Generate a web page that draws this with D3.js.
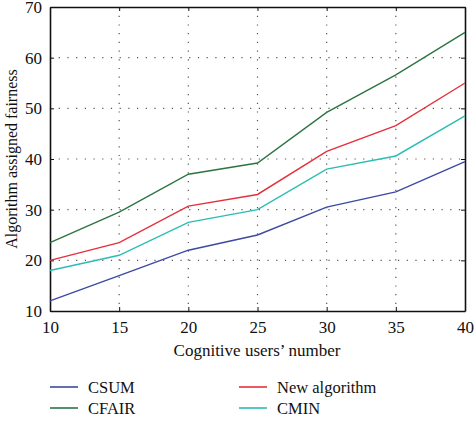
<!DOCTYPE html>
<html>
<head>
<meta charset="utf-8">
<script src="https://cdn.jsdelivr.net/npm/d3@7"></script>
<style>
  body { margin: 0; background: #fff; }
  text { font-family: "Liberation Serif", "DejaVu Serif", serif; fill: #111; }
</style>
</head>
<body>
<svg id="chart" width="474" height="440"></svg>
<script>
// users count on x
const users = [10, 15, 20, 25, 30, 35, 40];
const xTicks = [10, 15, 20, 25, 30, 35, 40];
const yTicks = [10, 20, 30, 40, 50, 60, 70];

// fairness values
const csum = [12, 17, 22, 25, 30.5, 33.5, 39.5];
const cfair = [23.5, 29.5, 37, 39.2, 49.2, 56.6, 65];
const newAlgo = [20, 23.5, 30.7, 33, 41.5, 46.6, 55];
const cmin = [18, 21, 27.5, 30, 38, 40.6, 48.5];

const seriesNames = ['CSUM', 'CFAIR', 'New algorithm', 'CMIN'];
const seriesValues = [csum, cfair, newAlgo, cmin];
const colors = ['#3d4aa3', '#2c7543', '#e5303c', '#2bbdb3'];

const svg = d3.select('#chart');
const margin = { left: 50, top: 7, right: 9, bottom: 129 };
const width = 474 - margin.left - margin.right;
const height = 440 - margin.top - margin.bottom;

const x = d3.scaleLinear().domain([10, 40]).range([0, width]);
const y = d3.scaleLinear().domain([10, 70]).range([height, 0]);

const g = svg.append('g')
  .attr('transform', `translate(${margin.left},${margin.top})`);

// dotted grid
g.append('g')
  .selectAll('line')
  .data(xTicks.slice(1, -1))
  .enter()
  .append('line')
  .attr('x1', d => x(d)).attr('x2', d => x(d))
  .attr('y1', 0).attr('y2', height)
  .attr('stroke', '#555')
  .attr('stroke-width', 1.2)
  .attr('stroke-dasharray', '1.2,7.5');

g.append('g')
  .selectAll('line')
  .data(yTicks.slice(1, -1))
  .enter()
  .append('line')
  .attr('x1', 0).attr('x2', width)
  .attr('y1', d => y(d)).attr('y2', d => y(d))
  .attr('stroke', '#555')
  .attr('stroke-width', 1.2)
  .attr('stroke-dasharray', '1.2,7.5');

// axes
const xAxis = g.append('g')
  .attr('transform', `translate(0,${height})`)
  .call(d3.axisBottom(x).tickValues(xTicks).tickSizeInner(-4).tickSizeOuter(0).tickPadding(10));
const yAxis = g.append('g')
  .call(d3.axisLeft(y).tickValues(yTicks).tickSizeInner(-4).tickSizeOuter(0).tickPadding(8));
g.append('g')
  .attr('transform', `translate(${width},0)`)
  .call(d3.axisRight(y).tickValues(yTicks).tickSizeInner(-4).tickSizeOuter(0).tickFormat(''));
g.append('g')
  .call(d3.axisTop(x).tickValues(xTicks).tickSizeInner(-4).tickSizeOuter(0).tickFormat(''));

g.selectAll('.domain').attr('stroke', '#111').attr('stroke-width', 1.6);
g.selectAll('.tick line').attr('stroke', '#111');
[xAxis, yAxis].forEach(a => a.selectAll('text')
  .style('font-family', '"Liberation Serif", serif')
  .style('font-size', '17px')
  .attr('fill', '#111'));

// lines
const line = d3.line()
  .x((d, i) => x(users[i]))
  .y(d => y(d));

g.selectAll('.series')
  .data(seriesValues)
  .enter()
  .append('path')
  .attr('class', 'series')
  .attr('d', line)
  .attr('fill', 'none')
  .attr('stroke', (d, i) => colors[i])
  .attr('stroke-width', 1.4);

// axis labels
svg.append('text')
  .attr('x', 257)
  .attr('y', 356)
  .attr('text-anchor', 'middle')
  .style('font-size', '17px')
  .text('Cognitive users’ number');

svg.append('text')
  .attr('transform', `translate(17,${margin.top + height / 2}) rotate(-90)`)
  .attr('text-anchor', 'middle')
  .style('font-size', '16px')
  .text('Algorithm assigned fairness');

// legend, two columns
const legendPos = [[50, 387], [50, 408], [239, 387], [239, 408]];
const legend = svg.append('g')
  .selectAll('g')
  .data(seriesNames)
  .enter()
  .append('g')
  .attr('transform', (d, i) => `translate(${legendPos[i][0]},${legendPos[i][1]})`);

legend.append('line')
  .attr('x1', 0).attr('x2', 28)
  .attr('y1', 0).attr('y2', 0)
  .attr('stroke', (d, i) => colors[i])
  .attr('stroke-width', 1.6);

legend.append('text')
  .attr('x', 38)
  .attr('y', 5.5)
  .style('font-size', '16.5px')
  .text(d => d);
</script>
</body>
</html>
